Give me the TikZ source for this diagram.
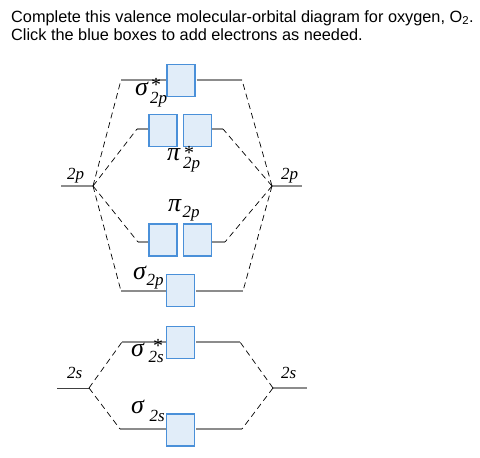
\documentclass[tikz,border=0pt]{standalone}
\usepackage{fontspec}
\setmainfont{Liberation Serif}
\newfontfamily\titlefont{Liberation Sans}
\definecolor{boxfill}{HTML}{E1EDF9}
\definecolor{boxdraw}{HTML}{4A90D9}
\definecolor{levelgray}{HTML}{8C8C8C}
% #1 greek, #2 star, #3 star x, #4 star raise, #5 sub x, #6 sub drop, #7 sub
\newcommand{\orbl}[7]{\rlap{\fontsize{26}{26}\selectfont\itshape #1}\rlap{\kern#3pt\raisebox{#4pt}{\fontsize{20}{20}\selectfont #2}}\kern#5pt\raisebox{-#6pt}{\fontsize{17}{17}\selectfont\itshape #7}}
\begin{document}
\begin{tikzpicture}[x=1pt,y=-1pt,
  ebox/.style={draw=boxdraw,fill=boxfill,line width=1.3pt,minimum width=28pt,minimum height=32pt,inner sep=0pt},
  level/.style={draw=levelgray,line width=1.4pt},
  alevel/.style={draw=black!75,line width=1pt},
  corr/.style={draw=black,line width=0.7pt,dash pattern=on 6pt off 4pt},
  lab/.style={inner sep=0pt,anchor=base west},
  atomlab/.style={inner sep=0pt,font=\fontsize{17}{20}\selectfont\itshape,anchor=base west}]
\useasboundingbox (0,0) rectangle (480,458);
% title
\node[anchor=base west,inner sep=0pt,font=\titlefont\fontsize{16.3}{19}\selectfont] (t1) at (11,22) {Complete this valence molecular-orbital diagram for oxygen, O\textsubscript{2}.};
\node[anchor=base west,inner sep=0pt,font=\titlefont\fontsize{16.3}{19}\selectfont] (t2) at (11,40) {Click the blue boxes to add electrons as needed.};
% boxes
\node[ebox] (sps) at (181,80.5) {};
\node[ebox] (pps1) at (163,130.5) {};
\node[ebox] (pps2) at (197.5,130.5) {};
\node[ebox] (pp1) at (163,240) {};
\node[ebox] (pp2) at (197.5,240) {};
\node[ebox] (sp) at (180.5,290.5) {};
\node[ebox] (sss) at (180.5,342.5) {};
\node[ebox] (ss) at (180.5,430) {};
% level endpoints
\coordinate (spsL) at (121,80); \coordinate (spsR) at (242,80);
\coordinate (ppsL) at (137,129); \coordinate (ppsR) at (223,129);
\coordinate (ppL) at (138,242); \coordinate (ppR) at (225,242);
\coordinate (spL) at (121,291); \coordinate (spR) at (243,291);
\coordinate (sssL) at (122,342); \coordinate (sssR) at (240,342);
\coordinate (ssL) at (120,429); \coordinate (ssR) at (242,429);
\coordinate (L2pa) at (61,186); \coordinate (L2pb) at (93,186);
\coordinate (R2pa) at (272,186); \coordinate (R2pb) at (302,186);
\coordinate (L2sa) at (57,388); \coordinate (L2sb) at (89,388);
\coordinate (R2sa) at (273,388); \coordinate (R2sb) at (307,388);
% level lines
\draw[level] (spsL) -- (sps.west |- spsL);
\draw[level] (sps.east |- spsR) ++(1,0) -- (spsR);
\draw[level] (ppsL) -- (pps1.west |- ppsL);
\draw[level] (pps2.east |- ppsR) -- (ppsR);
\draw[level] (ppL) -- (pp1.west |- ppL);
\draw[level] (pp2.east |- ppR) -- (ppR);
\draw[level] (spL) -- (sp.west |- spL);
\draw[level] (sp.east |- spR) ++(1,0) -- (spR);
\draw[level] (sssL) -- (sss.west |- sssL);
\draw[level] (sss.east |- sssR) ++(1,0) -- (sssR);
\draw[level] (ssL) -- (ss.west |- ssL);
\draw[level] (ss.east |- ssR) ++(1,0) -- (ssR);
\draw[level] (L2pa) -- (L2pb);
\draw[level] (R2pa) -- (R2pb);
\draw[alevel] (L2sa) -- (L2sb);
\draw[level] (R2sa) -- (R2sb);
% correlation lines
\draw[corr] (L2pb) -- (spsL);
\draw[corr] (L2pb) -- (ppsL);
\draw[corr] (L2pb) -- (ppL);
\draw[corr] (L2pb) -- (spL);
\draw[corr] (R2pa) -- (spsR);
\draw[corr] (R2pa) -- (ppsR);
\draw[corr] (R2pa) -- (ppR);
\draw[corr] (R2pa) -- (spR);
\draw[corr] (L2sb) -- (sssL);
\draw[corr] (L2sb) -- (ssL);
\draw[corr] (R2sa) -- (sssR);
\draw[corr] (R2sa) -- (ssR);
% labels
\node[lab] (lsps) at (135,95) {\orbl{σ}{*}{16}{4}{15}{8}{2p}};
\node[lab] (lpps) at (167,160) {\orbl{π}{*}{17}{0.5}{16}{8}{2p}};
\node[lab] (lpp) at (168,211) {\orbl{π}{}{0}{0}{14.5}{6}{2p}};
\node[lab] (lsp) at (133,279) {\orbl{σ}{}{0}{0}{13.5}{6}{2p}};
\node[lab] (lsss) at (131,356) {\orbl{σ}{*}{22}{3.5}{17.5}{6}{2s}};
\node[lab] (lss) at (131,413) {\orbl{σ}{}{0}{0}{18.5}{8}{2s}};
\node[atomlab] (l2pL) at (67,179) {2p};
\node[atomlab] (l2pR) at (281,179) {2p};
\node[atomlab] (l2sL) at (67,378) {2s};
\node[atomlab] (l2sR) at (281,378) {2s};
\end{tikzpicture}
\end{document}
